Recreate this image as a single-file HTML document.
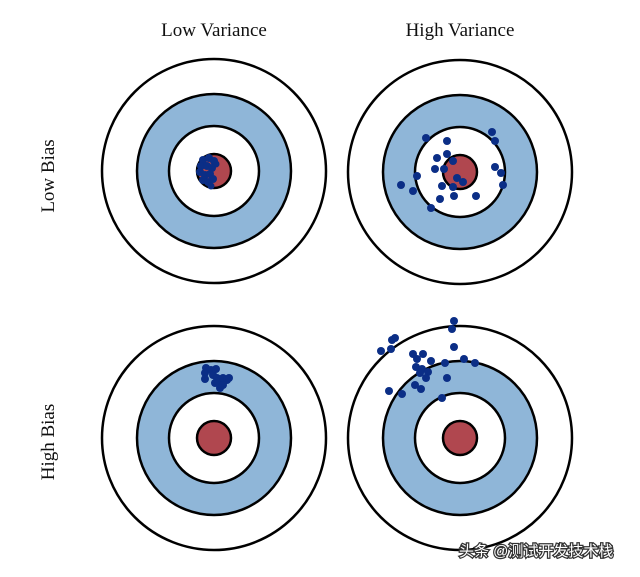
<!DOCTYPE html>
<html><head><meta charset="utf-8"><style>
body{margin:0;background:#fff;width:640px;height:572px;overflow:hidden}
</style></head><body>
<svg width="640" height="572" viewBox="0 0 640 572" xmlns="http://www.w3.org/2000/svg">
<defs>
<g id="t">
<circle r="112" fill="#fff" stroke="#000" stroke-width="2.5"/>
<circle r="77" fill="#8fb6d8" stroke="#000" stroke-width="2.5"/>
<circle r="45" fill="#fff" stroke="#000" stroke-width="2.5"/>
<circle r="17" fill="#b0474f" stroke="#000" stroke-width="2.5"/>
</g>
</defs>
<use href="#t" x="214" y="171"/>
<use href="#t" x="460" y="172"/>
<use href="#t" x="214" y="438"/>
<use href="#t" x="460" y="438"/>
<g fill="#0b2e86">
<!-- TL -->
<circle cx="203" cy="160" r="4"/><circle cx="209" cy="158" r="4"/><circle cx="214" cy="161" r="4"/>
<circle cx="201" cy="166" r="4"/><circle cx="207" cy="166" r="4"/><circle cx="212" cy="168" r="4"/>
<circle cx="200" cy="172" r="4"/><circle cx="205" cy="175" r="4"/><circle cx="210" cy="174" r="4"/>
<circle cx="203" cy="180" r="4"/><circle cx="208" cy="182" r="4"/><circle cx="213" cy="179" r="4"/>
<circle cx="211" cy="186" r="3.5"/><circle cx="216" cy="164" r="3.5"/>
<!-- TR -->
<circle cx="426" cy="138" r="4"/><circle cx="447" cy="141" r="4"/><circle cx="492" cy="132" r="4"/>
<circle cx="495" cy="141" r="4"/><circle cx="447" cy="154" r="4"/><circle cx="437" cy="158" r="4"/>
<circle cx="453" cy="161" r="4"/><circle cx="435" cy="169" r="4"/><circle cx="444" cy="169" r="4"/>
<circle cx="495" cy="167" r="4"/><circle cx="501" cy="173" r="4"/><circle cx="417" cy="176" r="4"/>
<circle cx="457" cy="178" r="4"/><circle cx="463" cy="182" r="4"/><circle cx="401" cy="185" r="4"/>
<circle cx="413" cy="191" r="4"/><circle cx="442" cy="186" r="4"/><circle cx="453" cy="187" r="4"/>
<circle cx="503" cy="185" r="4"/><circle cx="440" cy="199" r="4"/><circle cx="454" cy="196" r="4"/>
<circle cx="476" cy="196" r="4"/><circle cx="431" cy="208" r="4"/>
<!-- BL -->
<circle cx="206" cy="368" r="4"/><circle cx="205" cy="373" r="4"/><circle cx="205" cy="379" r="4"/>
<circle cx="211" cy="370" r="4"/><circle cx="213" cy="375" r="4"/><circle cx="217" cy="378" r="4"/>
<circle cx="219" cy="381" r="4"/><circle cx="223" cy="378" r="4"/><circle cx="227" cy="380" r="4"/>
<circle cx="229" cy="378" r="4"/><circle cx="223" cy="385" r="4"/><circle cx="220" cy="388" r="4"/>
<circle cx="215" cy="383" r="4"/><circle cx="216" cy="369" r="4"/>
<!-- BR -->
<circle cx="454" cy="321" r="4"/><circle cx="452" cy="329" r="4"/><circle cx="395" cy="338" r="4"/>
<circle cx="392" cy="340" r="4"/><circle cx="381" cy="351" r="4"/><circle cx="391" cy="349" r="4"/>
<circle cx="454" cy="347" r="4"/><circle cx="413" cy="354" r="4"/><circle cx="423" cy="354" r="4"/>
<circle cx="417" cy="359" r="4"/><circle cx="431" cy="361" r="4"/><circle cx="464" cy="359" r="4"/>
<circle cx="445" cy="363" r="4"/><circle cx="475" cy="363" r="4"/><circle cx="416" cy="367" r="4"/>
<circle cx="422" cy="369" r="4"/><circle cx="428" cy="372" r="4"/><circle cx="420" cy="373" r="4"/>
<circle cx="426" cy="378" r="4"/><circle cx="447" cy="378" r="4"/><circle cx="415" cy="385" r="4"/>
<circle cx="421" cy="389" r="4"/><circle cx="389" cy="391" r="4"/><circle cx="402" cy="394" r="4"/>
<circle cx="442" cy="398" r="4"/>
</g>
<g font-family="Liberation Serif, serif" font-size="19" fill="#111" text-anchor="middle">
<text x="214" y="36">Low Variance</text>
<text x="460" y="36">High Variance</text>
<text transform="translate(54,176) rotate(-90)">Low Bias</text>
<text transform="translate(54,442) rotate(-90)">High Bias</text>
</g>
<text x="459" y="556" font-family="Liberation Sans, 'Noto Sans CJK SC', sans-serif" font-size="15" fill="#fff" stroke="#333" stroke-width="2.5" paint-order="stroke">头条 @测试开发技术栈</text>
</svg>
</body></html>
